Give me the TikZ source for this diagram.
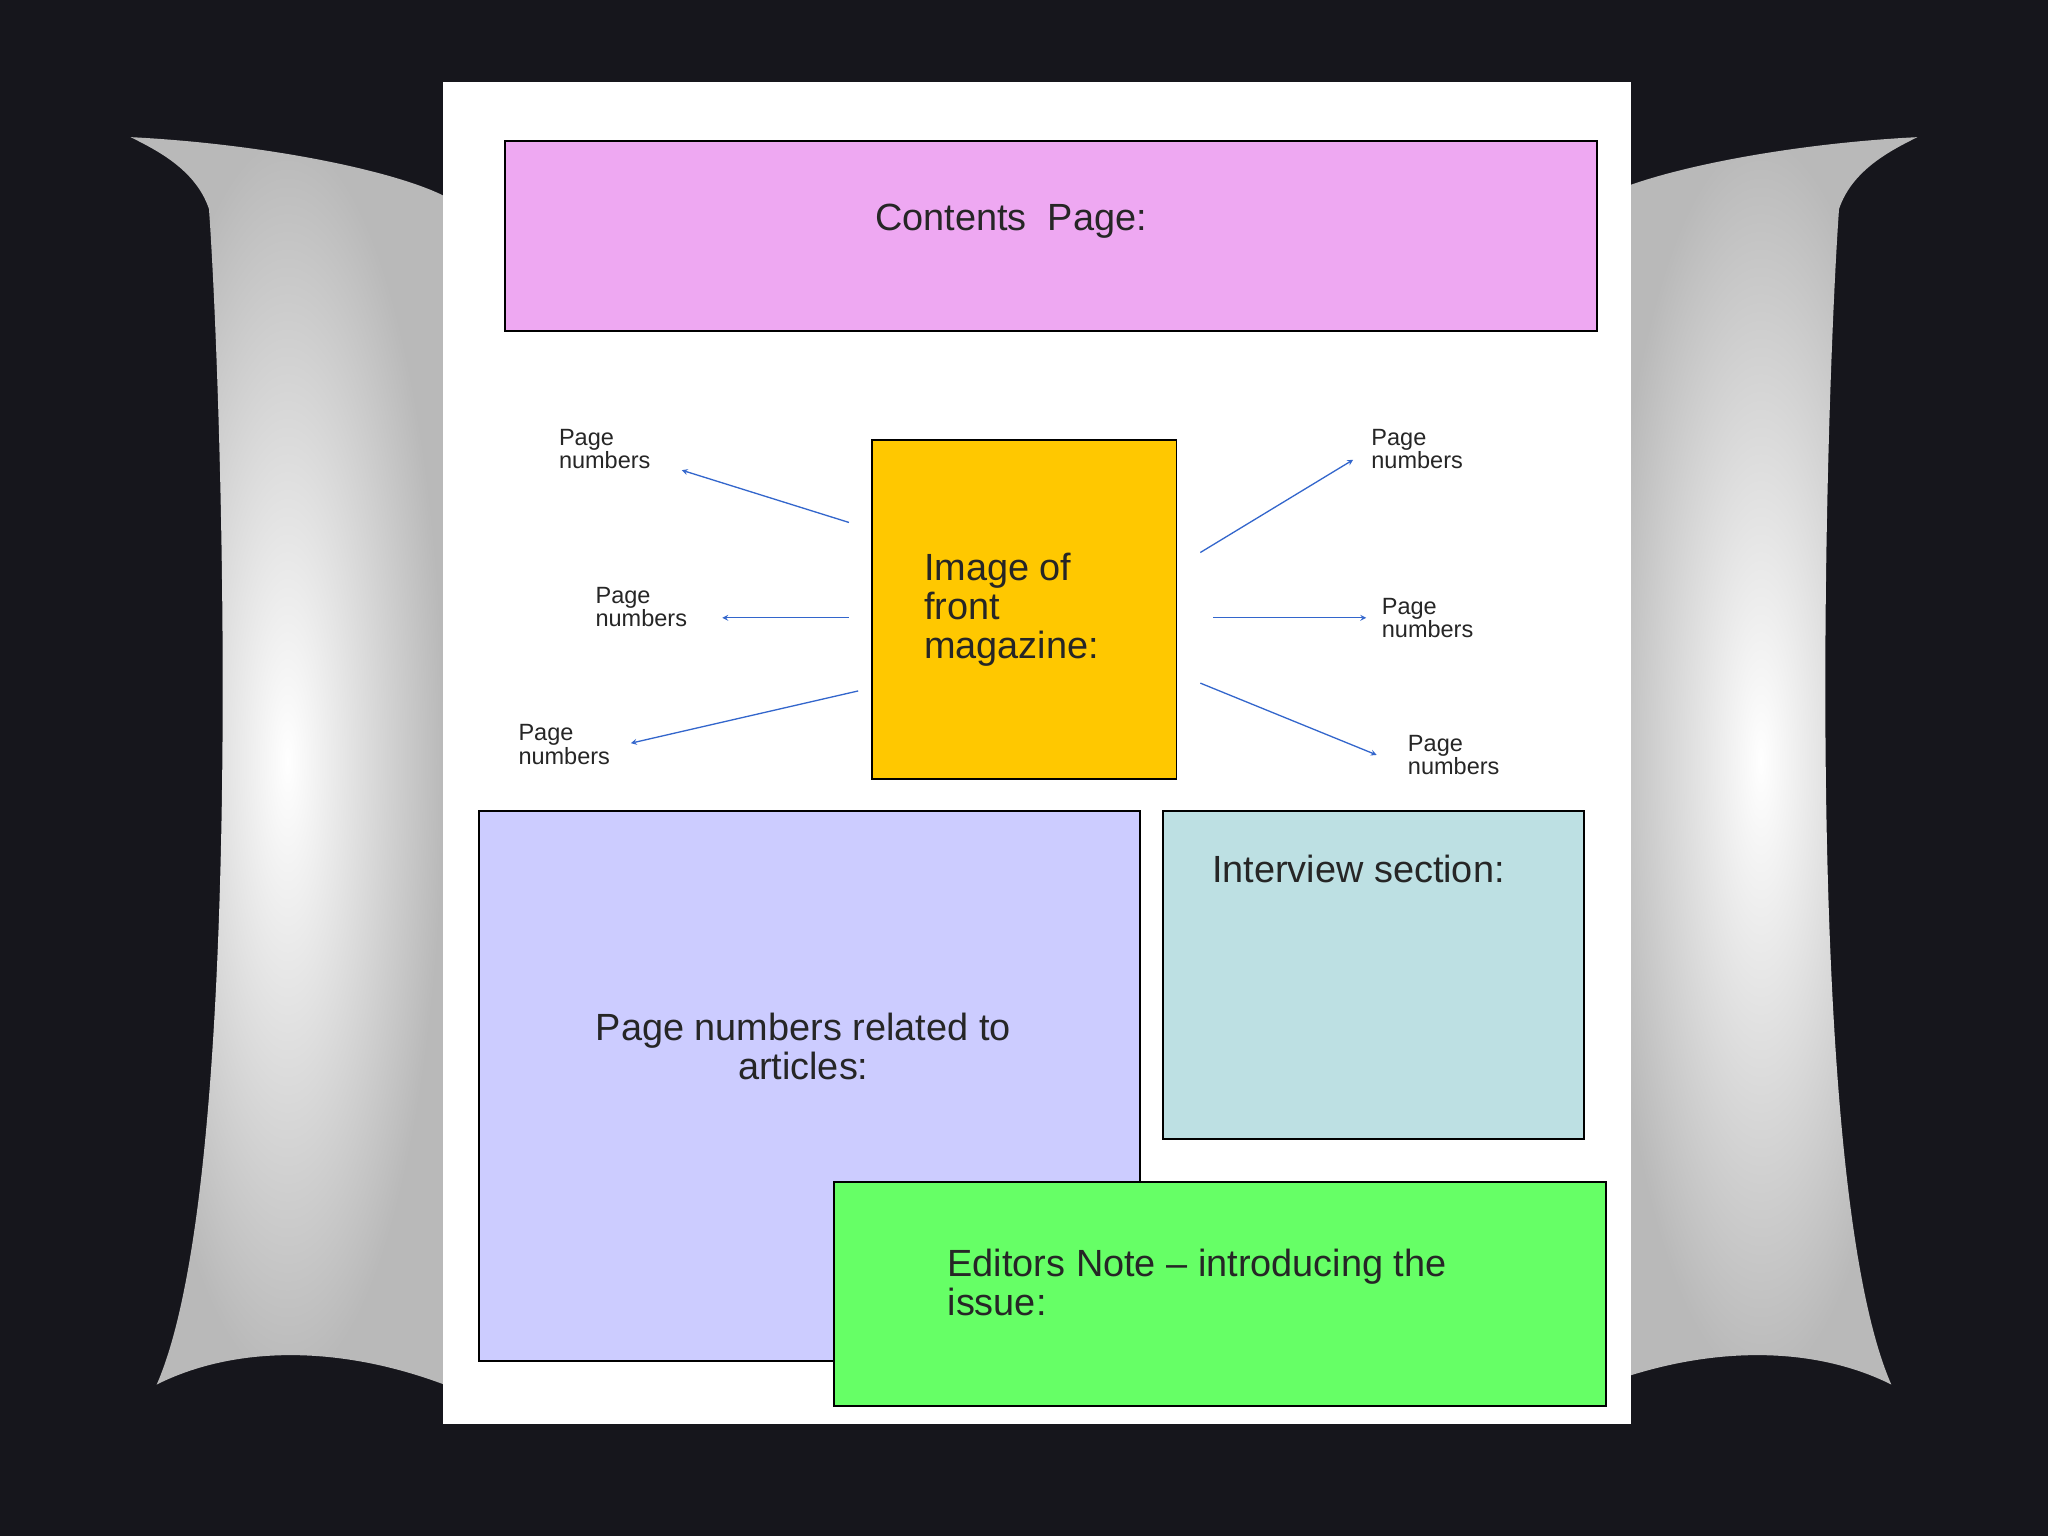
\documentclass[tikz,border=0pt]{standalone}
\usepackage{fontspec}
\setmainfont{Liberation Sans}
\begin{document}
\begin{tikzpicture}[x=1pt,y=-1pt,
  box/.style={draw=black,line width=1.5pt},
  arr/.style={draw={rgb,255:red,51;green,102;blue,204},line width=1pt,-stealth},
  pn/.style={font=\fontsize{18}{16}\selectfont,align=left,text=black!85},
  big/.style={font=\fontsize{29}{30}\selectfont,text=black!85}]
\definecolor{bgd}{RGB}{22,22,28}
\useasboundingbox (0,0) rectangle (1568,1176);
\fill[bgd] (0,0) rectangle (1568,1176);
% decorative frame panels
\shade[inner color=white,outer color=gray!55] (100,105) .. controls (200,110) and (300,130) .. (340,150) -- (340,1060) .. controls (260,1030) and (180,1030) .. (120,1060) .. controls (190,900) and (170,300) .. (160,160) .. controls (150,130) and (120,115) .. (100,105) -- cycle;
\shade[inner color=white,outer color=gray!55] (1468,105) .. controls (1368,110) and (1268,130) .. (1228,150) -- (1228,1060) .. controls (1308,1030) and (1388,1030) .. (1448,1060) .. controls (1378,900) and (1398,300) .. (1408,160) .. controls (1418,130) and (1448,115) .. (1468,105) -- cycle;
\fill[white] (339,63) rectangle (1249,1090);
% boxes
\node[box,fill={rgb,255:red,238;green,168;blue,242},minimum width=836,minimum height=146,anchor=north west] (cp) at (386,107) {};
\node[big] at (774,169) {Contents\ \ Page:};
\node[box,fill={rgb,255:red,255;green,200;blue,0},minimum width=233,minimum height=260,anchor=north west] (img) at (667,336) {};
\node[big,align=left,anchor=west] at (704,467) {Image of\\front\\magazine:};
\node[box,fill={rgb,255:red,204;green,204;blue,255},minimum width=506,minimum height=421,anchor=north west] (pg) at (366,620) {};
\node[big,align=center] at (615,801) {Page numbers related to\\articles:};
\node[box,fill={rgb,255:red,189;green,224;blue,227},minimum width=322,minimum height=251,anchor=north west] (iv) at (890,620) {};
\node[big] at (1040,665) {Interview section:};
\node[box,fill={rgb,255:red,102;green,255;blue,102},minimum width=591,minimum height=172,anchor=north west] (ed) at (638,904) {};
\node[big,align=left,anchor=west] at (722,982) {Editors Note -- introducing the\\issue:};
% labels
\node[pn] (l1) at (463,344) {Page\\numbers};
\node[pn] (l2) at (491,465) {Page\\numbers};
\node[pn] (l3) at (432,570) {Page\\numbers};
\node[pn] (r1) at (1085,344) {Page\\numbers};
\node[pn] (r2) at (1093,473) {Page\\numbers};
\node[pn] (r3) at (1113,578) {Page\\numbers};
\coordinate (a1) at (650,400); \coordinate (a2) at (650,473); \coordinate (a3) at (657,529);
\coordinate (b1) at (919,423); \coordinate (b2) at (929,473); \coordinate (b3) at (919,523);
\draw[arr] (a1) -- (522,360);
\draw[arr] (a2) -- (553,473);
\draw[arr] (a3) -- (483,569);
\draw[arr] (b1) -- (1036,352);
\draw[arr] (b2) -- (1046,473);
\draw[arr] (b3) -- (1054,578);
\end{tikzpicture}
\end{document}
